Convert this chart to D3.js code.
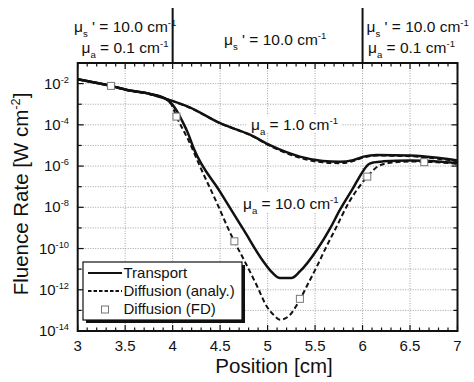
<!DOCTYPE html>
<html>
<head>
<meta charset="utf-8">
<script src="https://cdn.jsdelivr.net/npm/d3@7/dist/d3.min.js"></script>
<style>
  body { margin: 0; background: #fff; }
  text { font-family: "Liberation Sans", Arial, Helvetica, sans-serif; fill: #111; }
</style>
</head>
<body>
<script>
var svgW = 474;
var svgH = 382;

// fluence values are stored as log10 exponents
var posT1 = [3.00, 3.35, 3.52, 3.76, 3.94, 4.18, 4.50, 4.82, 5.03, 5.34, 5.58, 5.76, 5.90, 6.01, 6.15, 6.50, 6.79, 7.00];
var transport1 = [-1.79, -2.11, -2.31, -2.50, -2.75, -3.15, -3.92, -4.49, -5.00, -5.54, -5.75, -5.79, -5.71, -5.54, -5.46, -5.49, -5.60, -5.73];
var diffusion1 = [-1.79, -2.11, -2.31, -2.50, -2.75, -3.17, -3.92, -4.51, -5.03, -5.60, -5.82, -5.86, -5.76, -5.58, -5.49, -5.52, -5.64, -5.76];

var posT10 = [3.00, 3.35, 3.52, 3.76, 3.92, 4.00, 4.05, 4.10, 4.16, 4.22, 4.50, 4.75, 4.95, 5.05, 5.13, 5.25, 5.34, 5.52, 5.66, 5.76, 5.90, 6.01, 6.06, 6.12, 6.22, 6.50, 6.79, 7.00];
var transport10 = [-1.79, -2.11, -2.31, -2.50, -2.72, -3.03, -3.37, -3.81, -4.39, -5.12, -7.25, -9.11, -10.59, -11.17, -11.43, -11.43, -11.11, -10.06, -9.01, -8.14, -7.07, -6.21, -5.92, -5.82, -5.77, -5.73, -5.78, -5.86];

var posD10 = [3.00, 3.35, 3.52, 3.76, 3.92, 4.00, 4.04, 4.10, 4.17, 4.29, 4.45, 4.64, 4.75, 4.89, 4.99, 5.07, 5.13, 5.22, 5.31, 5.43, 5.52, 5.62, 5.71, 5.86, 5.98, 6.05, 6.16, 6.26, 6.50, 6.79, 7.00];
var diffusion10 = [-1.79, -2.11, -2.31, -2.50, -2.72, -3.13, -3.60, -4.15, -4.78, -6.04, -7.63, -9.57, -10.54, -11.83, -12.80, -13.25, -13.45, -13.29, -12.72, -11.67, -10.86, -9.90, -9.09, -7.73, -6.91, -6.51, -6.02, -5.86, -5.78, -5.82, -5.89];

var posFD = [3.35, 4.04, 4.65, 5.34, 6.05, 6.65];
var fd = [-2.11, -3.60, -9.65, -12.44, -6.51, -5.81];

var xTicks = [3, 3.5, 4, 4.5, 5, 5.5, 6, 6.5, 7];
var yTickExp = [-14, -12, -10, -8, -6, -4, -2];
var boundaries = [4, 6];

var x = d3.scaleLinear().domain([3, 7]).range([77.7, 457.5]);
var y = d3.scaleLog().domain([1e-14, 1e-1]).range([331, 63]);

var svg = d3.select("body").append("svg")
  .attr("width", svgW)
  .attr("height", svgH);

function toPts(xs, es) {
  return xs.map(function(d, i) { return [d, Math.pow(10, es[i])]; });
}

// rich text with sub/superscripts
function rich(g, px, py, parts, size, anchor) {
  var t = g.append("text")
    .attr("x", px).attr("y", py)
    .attr("font-size", size)
    .attr("text-anchor", anchor || "start");
  var shift = 0;
  parts.forEach(function(p) {
    var target = p.sub ? size * 0.3 : (p.sup ? -size * 0.4 : 0);
    t.append("tspan")
      .attr("dy", target - shift)
      .attr("font-size", (p.sub || p.sup) ? size * 0.62 : size)
      .text(p.t);
    shift = target;
  });
  return t;
}

// grid
var grid = svg.append("g");
grid.selectAll("line.gx")
  .data(xTicks.slice(1, -1))
  .enter().append("line")
  .attr("x1", function(d) { return x(d); })
  .attr("x2", function(d) { return x(d); })
  .attr("y1", y(1e-1)).attr("y2", y(1e-14))
  .attr("stroke", "#8a8a8a").attr("stroke-width", 0.8).attr("stroke-dasharray", "1,1.5");
grid.selectAll("line.gy")
  .data(d3.range(-13, -1))
  .enter().append("line")
  .attr("x1", x(3)).attr("x2", x(7))
  .attr("y1", function(d) { return y(Math.pow(10, d)); })
  .attr("y2", function(d) { return y(Math.pow(10, d)); })
  .attr("stroke", "#8a8a8a").attr("stroke-width", 0.8).attr("stroke-dasharray", "1,1.5");

// white boxes behind the in-plot labels
svg.append("rect").attr("x", 247).attr("y", 114).attr("width", 94).attr("height", 19).attr("fill", "#fff");
svg.append("rect").attr("x", 239).attr("y", 193).attr("width", 103).attr("height", 19).attr("fill", "#fff");

// curves
var line = d3.line()
  .x(function(d) { return x(d[0]); })
  .y(function(d) { return y(d[1]); })
  .curve(d3.curveMonotoneX);

svg.append("path").datum(toPts(posT1, diffusion1))
  .attr("d", line).attr("fill", "none").attr("stroke", "#111")
  .attr("stroke-width", 2).attr("stroke-dasharray", "5,3");
svg.append("path").datum(toPts(posD10, diffusion10))
  .attr("d", line).attr("fill", "none").attr("stroke", "#111")
  .attr("stroke-width", 2).attr("stroke-dasharray", "5,3");
svg.append("path").datum(toPts(posT1, transport1))
  .attr("d", line).attr("fill", "none").attr("stroke", "#111").attr("stroke-width", 2.5);
svg.append("path").datum(toPts(posT10, transport10))
  .attr("d", line).attr("fill", "none").attr("stroke", "#111").attr("stroke-width", 2.5);

svg.selectAll("rect.fd")
  .data(toPts(posFD, fd))
  .enter().append("rect")
  .attr("class", "fd")
  .attr("x", function(d) { return x(d[0]) - 3.5; })
  .attr("y", function(d) { return y(d[1]) - 3.5; })
  .attr("width", 7).attr("height", 7)
  .attr("fill", "#fff").attr("stroke", "#777").attr("stroke-width", 1);

// in-plot labels
rich(svg, 251, 130, [{t: "μ"}, {t: "a", sub: true}, {t: " = 1.0 cm"}, {t: "-1", sup: true}], 15.5);
rich(svg, 243, 209, [{t: "μ"}, {t: "a", sub: true}, {t: " = 10.0 cm"}, {t: "-1", sup: true}], 15.5);

// frame
svg.append("rect")
  .attr("x", x(3)).attr("y", y(1e-1))
  .attr("width", x(7) - x(3)).attr("height", y(1e-14) - y(1e-1))
  .attr("fill", "none").attr("stroke", "#111").attr("stroke-width", 2);

// ticks
var minorX = d3.range(30, 71).map(function(d) { return d / 10; });
var ticks = svg.append("g").attr("stroke", "#111").attr("stroke-width", 1.2);
minorX.forEach(function(v) {
  var len = (Math.round(v * 10) % 5 === 0) ? 6 : 3.5;
  ticks.append("line").attr("x1", x(v)).attr("x2", x(v)).attr("y1", y(1e-14)).attr("y2", y(1e-14) - len);
  ticks.append("line").attr("x1", x(v)).attr("x2", x(v)).attr("y1", y(1e-1)).attr("y2", y(1e-1) + len);
});
d3.range(-14, 0).forEach(function(e) {
  var len = (e % 2 === 0) ? 6 : 4;
  var yy = y(Math.pow(10, e));
  ticks.append("line").attr("x1", x(3)).attr("x2", x(3) + len).attr("y1", yy).attr("y2", yy);
  ticks.append("line").attr("x1", x(7)).attr("x2", x(7) - len).attr("y1", yy).attr("y2", yy);
});

// x tick labels
svg.selectAll("text.xt")
  .data(xTicks)
  .enter().append("text")
  .attr("x", function(d) { return x(d); })
  .attr("y", 351)
  .attr("text-anchor", "middle")
  .attr("font-size", 15)
  .text(function(d) { return d; });

// y tick labels
yTickExp.forEach(function(e) {
  rich(svg, 69, y(Math.pow(10, e)) + 5, [{t: "10"}, {t: String(e), sup: true}], 15, "end");
});

// axis titles
svg.append("text")
  .attr("x", 274).attr("y", 373)
  .attr("text-anchor", "middle")
  .attr("font-size", 20.5)
  .text("Position [cm]");
var yt = svg.append("g").attr("transform", "translate(28,194) rotate(-90)");
rich(yt, 0, 0, [{t: "Fluence Rate [W cm"}, {t: "-2", sup: true}, {t: "]"}], 20.5, "middle");

// region labels above the plot
rich(svg, 74, 32, [{t: "μ"}, {t: "s", sub: true}, {t: " ' = 10.0 cm"}, {t: "-1", sup: true}], 15.5);
rich(svg, 81.5, 53, [{t: "μ"}, {t: "a", sub: true}, {t: " = 0.1 cm"}, {t: "-1", sup: true}], 15.5);
rich(svg, 224, 45, [{t: "μ"}, {t: "s", sub: true}, {t: " ' = 10.0 cm"}, {t: "-1", sup: true}], 15.5);
rich(svg, 366.5, 32, [{t: "μ"}, {t: "s", sub: true}, {t: " ' = 10.0 cm"}, {t: "-1", sup: true}], 15.5);
rich(svg, 368, 53, [{t: "μ"}, {t: "a", sub: true}, {t: " = 0.1 cm"}, {t: "-1", sup: true}], 15.5);

// region boundaries, drawn over the labels
svg.selectAll("line.bd")
  .data(boundaries)
  .enter().append("line")
  .attr("x1", function(d) { return x(d); })
  .attr("x2", function(d) { return x(d); })
  .attr("y1", 8).attr("y2", y(1e-1))
  .attr("stroke", "#111").attr("stroke-width", 2);

// legend
var lg = svg.append("g");
lg.append("rect").attr("x", 86).attr("y", 265).attr("width", 159).attr("height", 58).attr("fill", "#111");
lg.append("rect").attr("x", 83).attr("y", 262).attr("width", 159).attr("height", 58)
  .attr("fill", "#fff").attr("stroke", "#111").attr("stroke-width", 1.2);
lg.append("line").attr("x1", 88).attr("x2", 122).attr("y1", 273).attr("y2", 273)
  .attr("stroke", "#111").attr("stroke-width", 2);
lg.append("line").attr("x1", 88).attr("x2", 122).attr("y1", 291).attr("y2", 291)
  .attr("stroke", "#111").attr("stroke-width", 1.8).attr("stroke-dasharray", "3.5,2");
lg.append("rect").attr("x", 101.5).attr("y", 306).attr("width", 7).attr("height", 7)
  .attr("fill", "#fff").attr("stroke", "#777").attr("stroke-width", 1);
var legendNames = ["Transport", "Diffusion (analy.)", "Diffusion (FD)"];
lg.selectAll("text")
  .data(legendNames)
  .enter().append("text")
  .attr("x", 123.5)
  .attr("y", function(d, i) { return 277.5 + i * 18; })
  .attr("font-size", 15)
  .text(function(d) { return d; });
</script>
</body>
</html>
